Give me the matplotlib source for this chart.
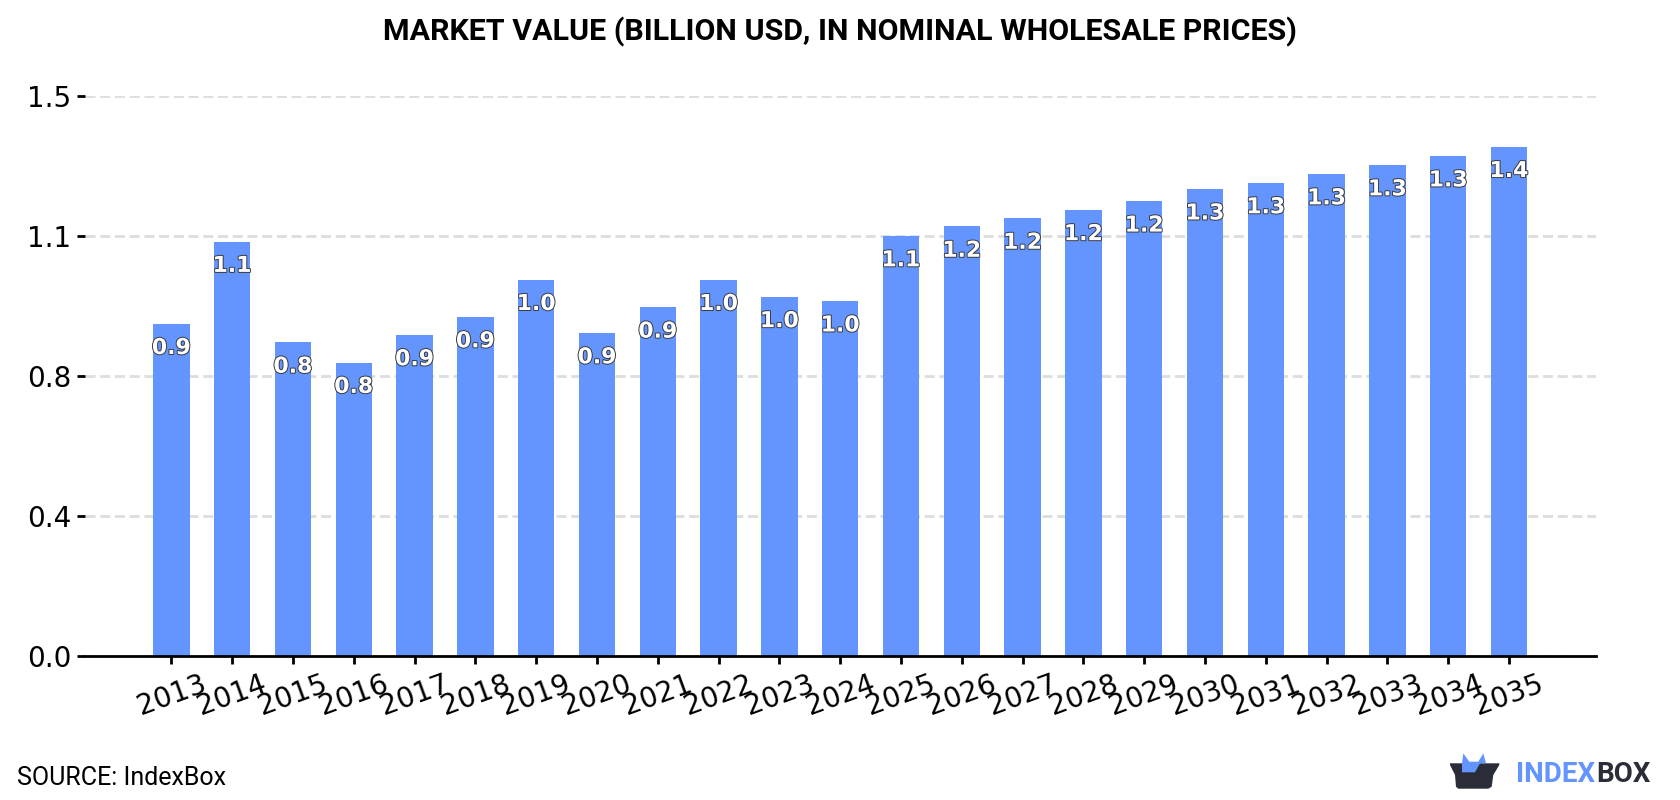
import matplotlib
matplotlib.use('Agg')
import matplotlib.pyplot as plt
import matplotlib.patheffects as pe
from matplotlib.patches import Polygon

years = list(range(2013, 2036))
values = [0.89, 1.11, 0.84, 0.786, 0.86, 0.908, 1.008, 0.865, 0.934, 1.008, 0.962, 0.9505,
          1.125, 1.1505, 1.172, 1.195, 1.218, 1.2505, 1.267, 1.291, 1.315, 1.339, 1.364]
y_ticks = [0, 0.375, 0.75, 1.125, 1.5]
y_tick_labels = ['0.0', '0.4', '0.8', '1.1', '1.5']

BAR = '#6495ff'
DARK = '#2a2c38'
W, H = 1680, 800

fig = plt.figure(figsize=(W / 100, H / 100), dpi=100)
ax = fig.add_axes([85 / W, 1 - 656 / H, (1596 - 85) / W, (656 - 96) / H])

ax.bar(years, values, width=0.6, color=BAR, zorder=2)
ax.set_xlim(2013 - 1.42, 2013 + 23.43)
ax.set_ylim(0, 1.5)

# grid
ax.set_yticks(y_ticks)
ax.set_yticklabels(y_tick_labels, fontsize=20)
ax.set_xticks(years)
ax.set_xticklabels(years, fontsize=20.2, rotation=20, ha='center')
ax.yaxis.grid(True, color='#dddddd', linestyle=(0, (3.6, 1.7)), linewidth=2, zorder=1)
ax.set_axisbelow(True)
ax.tick_params(axis='y', length=6, width=2, pad=4)
ax.tick_params(axis='x', length=6, width=2, pad=4)

for side in ['top', 'right', 'left']:
    ax.spines[side].set_visible(False)
ax.spines['bottom'].set_linewidth(2)

# value labels inside the bars
for x, v in zip(years, values):
    ax.annotate(f'{v:.1f}', (x, v), xytext=(0, -17.5), textcoords='offset points',
                ha='center', va='center', fontsize=15.8, fontweight='bold', color='white',
                path_effects=[pe.withStroke(linewidth=1.4, foreground='#3a3a3a')], zorder=3)

fig.text(0.5, 1 - 32 / H, 'MARKET VALUE (BILLION USD, IN NOMINAL WHOLESALE PRICES)',
         family='Roboto', fontweight='bold', fontsize=21.9, ha='center', va='center')
fig.text(17 / W, 1 - 778 / H, 'SOURCE: IndexBox', family='Roboto', fontsize=18,
         ha='left', va='center')

# logo, drawn on an overlay in pixel coordinates
logo = fig.add_axes([0, 0, 1, 1], facecolor='none')
logo.set_xlim(0, W)
logo.set_ylim(H, 0)
logo.axis('off')
logo.add_patch(Polygon([(1450, 763.3), (1499.3, 763.3), (1499.3, 765), (1493.3, 775),
                        (1491.7, 786.7), (1488.3, 788.7), (1458.3, 788.7), (1456, 786.7),
                        (1455, 775), (1450, 765)],
                       closed=True, color=DARK, lw=0, zorder=2))
logo.add_patch(Polygon([(1462, 763.3), (1463.3, 753.3), (1469.3, 761.7), (1478.3, 761.7),
                        (1483.3, 753.3), (1486, 763.3), (1480, 763.3), (1475, 772.3),
                        (1462, 772.3)],
                       closed=True, color=BAR, lw=0, zorder=3))
t1 = logo.text(1516, 774, 'INDEX', family='Roboto', fontweight='bold', fontsize=20,
               color=BAR, ha='left', va='center')
fig.canvas.draw()
bb = t1.get_window_extent()
logo.text(bb.x1 + 1, 774, 'BOX', family='Roboto', fontweight='bold', fontsize=20,
          color=DARK, ha='left', va='center')

fig.savefig('out.png', dpi=100)
